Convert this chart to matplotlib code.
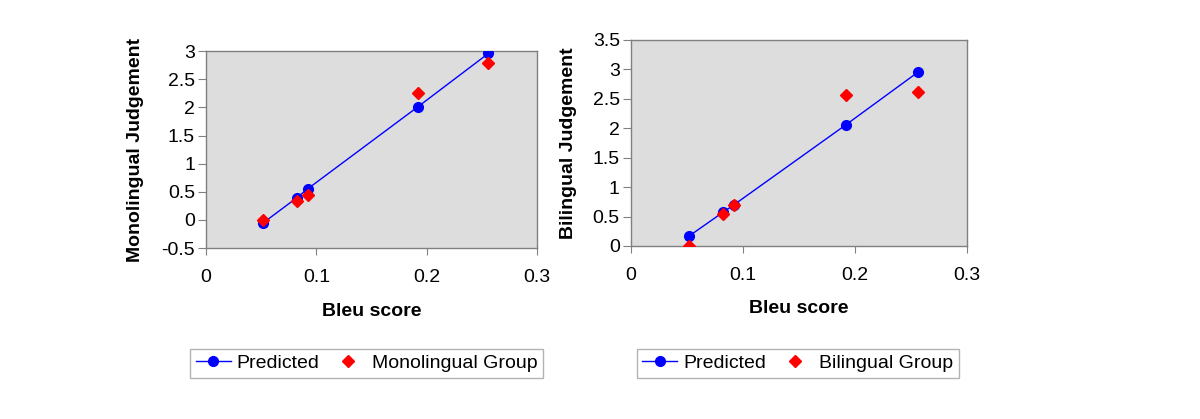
import numpy as np
import matplotlib.pyplot as plt
from matplotlib.ticker import FuncFormatter, MultipleLocator

plt.rcParams['font.family'] = ['Liberation Sans', 'DejaVu Sans']

# ----- values -----
bleu_mono = [0.052, 0.082, 0.092, 0.192, 0.256]
pred_mono = [-0.05, 0.39, 0.55, 2.01, 2.96]
group_mono = [0.0, 0.33, 0.45, 2.25, 2.79]

bleu_bi = [0.052, 0.082, 0.092, 0.192, 0.256]
pred_bi = [0.17, 0.57, 0.70, 2.06, 2.95]
group_bi = [0.0, 0.55, 0.69, 2.57, 2.61]

panels = [
    dict(pos=[0.1717, 0.408, 0.2758, 0.470], x=bleu_mono, pred=pred_mono, grp=group_mono,
         ylabel="Monolingual Judgement", glabel="Monolingual Group", ylim=(-0.5, 3),
         leg=(0.3054, 0.1325), ylpad=12.5),
    dict(pos=[0.5258, 0.413, 0.2800, 0.4916], x=bleu_bi, pred=pred_bi, grp=group_bi,
         ylabel="Bilingual Judgement", glabel="Bilingual Group", ylim=(0, 3.5),
         leg=(0.6646, 0.1325), ylpad=11),
]

fmt = FuncFormatter(lambda v, p: f"{v:g}")

fig = plt.figure(figsize=(12, 4.19), dpi=100)
for pn in panels:
    ax = fig.add_axes(pn["pos"])
    ax.set_facecolor("#DDDDDD")
    line, = ax.plot(pn["x"], pn["pred"], color="#0000FF", lw=1, marker="o", ms=7,
                    mfc="#0000FF", mec="#0000FF", label="Predicted", zorder=3)
    pts, = ax.plot(pn["x"], pn["grp"], ls="none", marker="D", ms=6, color="#FF0000",
                   label=pn["glabel"], zorder=4)
    ax.set_xlim(0, 0.3)
    ax.set_ylim(*pn["ylim"])
    ax.xaxis.set_major_locator(MultipleLocator(0.1))
    ax.yaxis.set_major_locator(MultipleLocator(0.5))
    ax.xaxis.set_major_formatter(fmt)
    ax.yaxis.set_major_formatter(fmt)
    ax.tick_params(axis="x", direction="out", length=5, pad=10, labelsize=14, color="#808080")
    ax.tick_params(axis="y", direction="out", length=6, pad=2, labelsize=14, color="#808080")
    for s in ax.spines.values():
        s.set_color("#808080")
        s.set_linewidth(1)
    ax.set_xlabel("Bleu score", fontsize=14, fontweight="bold", labelpad=12)
    ax.set_ylabel(pn["ylabel"], fontsize=14, fontweight="bold", labelpad=pn["ylpad"])
    leg = fig.legend(handles=[line, pts], loc="center", bbox_to_anchor=pn["leg"], ncol=2,
                     fontsize=14, frameon=True, fancybox=False, edgecolor="#A0A0A0",
                     handlelength=1.8, handletextpad=0.3, columnspacing=0.6,
                     borderpad=0.3, borderaxespad=0)
    leg.get_frame().set_linewidth(1)

fig.savefig("out.png", dpi=100)
